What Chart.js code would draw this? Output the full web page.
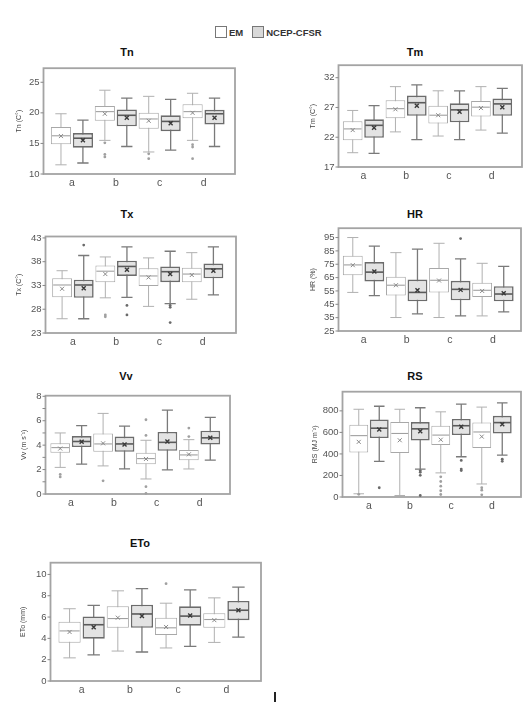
<!DOCTYPE html>
<html>
<head>
<meta charset="utf-8">
<script src="https://cdn.jsdelivr.net/npm/chart.js@4.4.1/dist/chart.umd.min.js"></script>
<style>
  body { margin: 0; background: #fff; font-family: "Liberation Sans", Arial, sans-serif; }
  #wrap { position: relative; width: 531px; height: 714px; overflow: hidden; }
  canvas { position: absolute; }
  .ptitle { position: absolute; font-weight: bold; font-size: 11px; color: #111; transform: translate(-50%, -50%); white-space: nowrap; }
  .legend { position: absolute; top: 26px; left: 215px; font-size: 9.5px; font-weight: bold; color: #333; display: flex; align-items: center; }
  .legend span.sw { display: inline-block; width: 10px; height: 10px; border: 1px solid #777; margin-right: 2px; }
  .legend span.lab { margin-right: 9px; }
  .cursor { position: absolute; left: 274px; top: 692px; width: 1.5px; height: 10px; background: #222; }
</style>
</head>
<body>
<div id="wrap">
  <div class="legend">
    <span class="sw" style="background:#fff"></span><span class="lab">EM</span>
    <span class="sw" style="background:#d9d9d9"></span><span class="lab">NCEP-CFSR</span>
  </div>
  <div class="cursor"></div>
</div>
<script>
const categories = ['a', 'b', 'c', 'd'];
const seriesNames = ['EM', 'NCEP-CFSR'];

// each row: [low whisker, Q1, median, Q3, high whisker, mean]
const tnEM = [[11.5, 14.85, 16.25, 17.7, 19.85, 16.2], [15.5, 18.7, 20.2, 21.1, 23.7, 19.85], [13.6, 17.4, 19.0, 20.0, 22.7, 18.7], [15.5, 19.1, 20.2, 21.4, 23.2, 20.0]];
const tnNCEP = [[11.8, 14.3, 15.85, 16.7, 18.8, 15.5], [14.5, 17.8, 19.6, 20.55, 22.4, 19.2], [13.9, 17.0, 18.6, 19.6, 22.2, 18.3], [14.5, 18.1, 19.85, 20.5, 22.4, 19.2]];
const tnEMOut = [[], [15.1, 13.2, 12.8], [13.3, 12.5], [14.8, 14.4, 12.5]];
const tnNCEPOut = [[], [], [], []];
const tnTicks = [10, 15, 20, 25];
const tnRange = [10, 27.3];

const tmEM = [[19.4, 21.5, 23.4, 24.7, 26.5, 23.2], [22.9, 25.2, 26.8, 28.2, 30.5, 26.7], [22.2, 24.3, 25.7, 27.3, 29.8, 25.7], [23.2, 25.5, 27.05, 28.1, 30.5, 26.9]];
const tmNCEP = [[19.3, 21.9, 24.0, 25.0, 27.3, 23.6], [21.6, 25.6, 27.8, 29.0, 30.8, 27.3], [21.6, 24.5, 26.6, 27.7, 29.8, 26.3], [22.7, 25.6, 27.6, 28.5, 30.2, 27.05]];
const tmEMOut = [[], [], [], []];
const tmNCEPOut = [[], [], [], []];
const tmTicks = [17, 22, 27, 32];
const tmRange = [17, 34.1];

const txEM = [[26.0, 30.5, 33.1, 34.5, 36.1, 32.3], [30.4, 33.7, 36.0, 37.2, 39.0, 35.4], [28.6, 32.9, 35.0, 36.6, 38.8, 34.7], [30.1, 33.7, 35.4, 36.7, 39.9, 35.2]];
const txNCEP = [[26.0, 30.4, 33.1, 34.2, 39.3, 32.4], [30.5, 35.0, 37.0, 38.2, 41.1, 36.3], [29.2, 33.7, 35.9, 37.0, 40.2, 35.4], [31.0, 34.5, 36.5, 37.6, 41.1, 36.1]];
const txEMOut = [[], [26.8, 26.4], [], []];
const txNCEPOut = [[41.5], [28.8, 26.8], [28.8, 28.4, 25.2], []];
const txTicks = [23, 28, 33, 38, 43];
const txRange = [23, 43.3];

const hrEM = [[53.9, 66.8, 74.5, 81.3, 95.0, 74.3], [35.1, 51.5, 59.3, 65.6, 83.7, 59.3], [35.1, 53.9, 63.0, 72.2, 90.7, 62.8], [36.3, 50.4, 55.5, 61.2, 75.7, 55.0]];
const hrNCEP = [[51.5, 62.1, 69.1, 76.6, 88.6, 69.6], [37.9, 47.3, 53.9, 63.5, 86.3, 55.5], [36.3, 48.0, 56.2, 62.6, 79.0, 55.8], [39.3, 47.3, 52.7, 58.6, 73.4, 53.2]];
const hrEMOut = [[], [], [], []];
const hrNCEPOut = [[], [], [94.2], []];
const hrTicks = [25, 35, 45, 55, 65, 75, 85, 95];
const hrRange = [25, 102];

const vvEM = [[2.18, 3.38, 3.8, 4.15, 5.0, 3.72], [2.3, 3.46, 4.1, 4.95, 6.6, 4.15], [1.23, 2.44, 2.9, 3.38, 4.4, 2.87], [2.05, 2.77, 3.2, 3.6, 4.45, 3.25]];
const vvNCEP = [[2.44, 3.85, 4.3, 4.74, 5.6, 4.28], [2.05, 3.46, 4.1, 4.7, 5.56, 4.05], [1.97, 3.54, 4.23, 5.08, 6.87, 4.3], [2.77, 4.05, 4.6, 5.18, 6.28, 4.6]];
const vvEMOut = [[1.6, 1.4], [1.08], [6.08, 4.8, 0.6, 0.05], [5.4, 4.7]];
const vvNCEPOut = [[], [], [], []];
const vvTicks = [0, 1, 2, 3, 4, 5, 6, 7, 8];
const vvRange = [0, 8.05];

const rsEM = [[30, 414, 570, 670, 815, 512], [14, 409, 590, 696, 815, 527], [224, 483, 575, 662, 791, 532], [121, 455, 604, 691, 835, 561]];
const rsNCEP = [[331, 547, 639, 720, 843, 627], [259, 524, 633, 696, 829, 610], [374, 575, 662, 725, 863, 653], [388, 590, 691, 754, 875, 676]];
const rsEMOut = [[25], [], [187, 144, 101, 58, 23], [86, 63, 20]];
const rsNCEPOut = [[86], [245, 230, 201, 14], [340, 259, 245], [351, 331]];
const rsTicks = [0, 200, 400, 600, 800];
const rsRange = [0, 978];

const etoEM = [[2.17, 3.6, 4.7, 5.57, 6.78, 4.6], [2.81, 4.99, 5.86, 7.01, 8.46, 5.94], [3.1, 4.32, 4.99, 5.94, 7.3, 5.07], [3.62, 4.99, 5.77, 6.35, 7.8, 5.71]];
const etoNCEP = [[2.46, 3.97, 5.28, 6.06, 7.1, 5.04], [2.72, 4.99, 6.29, 7.16, 8.67, 6.09], [3.25, 5.19, 6.09, 7.01, 8.55, 6.14], [4.12, 5.71, 6.64, 7.51, 8.81, 6.64]];
const etoEMOut = [[], [], [9.13], []];
const etoNCEPOut = [[], [], [], []];
const etoTicks = [0, 2, 4, 6, 8, 10];
const etoRange = [0, 11.1];

// page layout of each panel (pixels)
const panels = [
  { title: 'Tn', yLabel: 'Tn (C°)', em: tnEM, ncep: tnNCEP, emOut: tnEMOut, ncepOut: tnNCEPOut, ticks: tnTicks, range: tnRange,
    labelX: 19, bandL: 49.5, bandR: 225.5, frameL: 43, frameR: 235, top: 59, bottom: 174, titleX: 127, titleY: 52 },
  { title: 'Tm', yLabel: 'Tm (C°)', em: tmEM, ncep: tmNCEP, emOut: tmEMOut, ncepOut: tmNCEPOut, ticks: tmTicks, range: tmRange,
    labelX: 313, bandL: 341.5, bandR: 513, frameL: 338, frameR: 522, top: 59, bottom: 167, titleX: 415, titleY: 52 },
  { title: 'Tx', yLabel: 'Tx (C°)', em: txEM, ncep: txNCEP, emOut: txEMOut, ncepOut: txNCEPOut, ticks: txTicks, range: txRange,
    labelX: 19, bandL: 50.8, bandR: 224.2, frameL: 45, frameR: 236, top: 228, bottom: 333, titleX: 127, titleY: 214 },
  { title: 'HR', yLabel: 'HR (%)', em: hrEM, ncep: hrNCEP, emOut: hrEMOut, ncepOut: hrNCEPOut, ticks: hrTicks, range: hrRange,
    labelX: 313, bandL: 341.5, bandR: 514.5, frameL: 338, frameR: 521, top: 222, bottom: 331, titleX: 415, titleY: 214 },
  { title: 'Vv', yLabel: 'Vv (m s⁻¹)', em: vvEM, ncep: vvNCEP, emOut: vvEMOut, ncepOut: vvNCEPOut, ticks: vvTicks, range: vvRange,
    labelX: 24, bandL: 49, bandR: 221, frameL: 45, frameR: 230, top: 389, bottom: 494, titleX: 126, titleY: 376 },
  { title: 'RS', yLabel: 'RS (MJ m⁻²)', em: rsEM, ncep: rsNCEP, emOut: rsEMOut, ncepOut: rsNCEPOut, ticks: rsTicks, range: rsRange,
    labelX: 315, bandL: 348, bandR: 512.5, frameL: 342, frameR: 521, top: 383, bottom: 497, titleX: 415, titleY: 376 },
  { title: 'ETo', yLabel: 'ETo (mm)', em: etoEM, ncep: etoNCEP, emOut: etoEMOut, ncepOut: etoNCEPOut, ticks: etoTicks, range: etoRange,
    labelX: 23, bandL: 57, bandR: 250.5, frameL: 50, frameR: 261, top: 553, bottom: 681, titleX: 140, titleY: 543 }
];

const styles = [
  { fill: '#ffffff', border: '#a8a8a8', bw: 1, whisker: '#b0b0b0', median: '#a0a0a0', mean: '#8a8a8a', out: '#a0a0a0' },
  { fill: '#e3e3e3', border: '#6c6c6c', bw: 1.6, whisker: '#7a7a7a', median: '#5a5a5a', mean: '#3a3a3a', out: '#6a6a6a' }
];

const PAD_TOP = 7;
const X_AXIS_H = 18;

const boxPlot = {
  id: 'boxPlot',
  beforeDraw(chart, args, opts) {
    const { ctx, chartArea: a } = chart;
    const p = opts.panel;
    const left = a.left - (p.bandL - p.frameL);
    const right = a.right + (p.frameR - p.bandR);
    ctx.save();
    ctx.strokeStyle = '#a4a4a4';
    ctx.lineWidth = 1.8;
    ctx.strokeRect(left, a.top, right - left, a.bottom - a.top);
    // small tick marks on the left side
    const y = chart.scales.y;
    ctx.lineWidth = 1;
    ctx.strokeStyle = '#888';
    p.ticks.forEach(v => {
      const py = y.getPixelForValue(v);
      ctx.beginPath();
      ctx.moveTo(left - 3, py);
      ctx.lineTo(left, py);
      ctx.stroke();
    });
    ctx.restore();
  },
  beforeDatasetsDraw(chart, args, opts) {
    const { ctx } = chart;
    const y = chart.scales.y;
    const p = opts.panel;
    [p.em, p.ncep].forEach((rows, di) => {
      const st = styles[di];
      const meta = chart.getDatasetMeta(di);
      meta.data.forEach((bar, i) => {
        const r = rows[i];
        const cap = bar.width * 0.28;
        ctx.save();
        ctx.strokeStyle = st.whisker;
        ctx.lineWidth = di ? 1.3 : 1;
        ctx.beginPath();
        ctx.moveTo(bar.x, y.getPixelForValue(r[0]));
        ctx.lineTo(bar.x, y.getPixelForValue(r[4]));
        [r[0], r[4]].forEach(v => {
          const py = y.getPixelForValue(v);
          ctx.moveTo(bar.x - cap, py);
          ctx.lineTo(bar.x + cap, py);
        });
        ctx.stroke();
        ctx.restore();
      });
    });
  },
  afterDatasetsDraw(chart, args, opts) {
    const { ctx } = chart;
    const y = chart.scales.y;
    const p = opts.panel;
    [[p.em, p.emOut], [p.ncep, p.ncepOut]].forEach(([rows, outs], di) => {
      const st = styles[di];
      const meta = chart.getDatasetMeta(di);
      meta.data.forEach((bar, i) => {
        const r = rows[i];
        const half = bar.width / 2;
        ctx.save();
        // median
        ctx.strokeStyle = st.median;
        ctx.lineWidth = di ? 1.6 : 1.1;
        const my = y.getPixelForValue(r[2]);
        ctx.beginPath();
        ctx.moveTo(bar.x - half + 1, my);
        ctx.lineTo(bar.x + half - 1, my);
        ctx.stroke();
        // mean
        const ey = y.getPixelForValue(r[5]);
        const s = 2;
        ctx.strokeStyle = st.mean;
        ctx.lineWidth = di ? 1.4 : 1;
        ctx.beginPath();
        ctx.moveTo(bar.x - s, ey - s); ctx.lineTo(bar.x + s, ey + s);
        ctx.moveTo(bar.x - s, ey + s); ctx.lineTo(bar.x + s, ey - s);
        ctx.stroke();
        // outliers
        ctx.fillStyle = st.out;
        outs[i].forEach(v => {
          ctx.beginPath();
          ctx.arc(bar.x, y.getPixelForValue(v), 1.4, 0, Math.PI * 2);
          ctx.fill();
        });
        ctx.restore();
      });
    });
  }
};

const wrap = document.getElementById('wrap');

panels.forEach(p => {
  const cLeft = p.labelX - 4.5;
  const cTop = p.top - PAD_TOP;
  const cRight = p.frameR + 3;
  const cW = cRight - cLeft;
  const cH = (p.bottom - p.top) + PAD_TOP + X_AXIS_H;

  const t = document.createElement('div');
  t.className = 'ptitle';
  t.style.left = p.titleX + 'px';
  t.style.top = p.titleY + 'px';
  t.textContent = p.title;
  wrap.appendChild(t);

  const cv = document.createElement('canvas');
  cv.style.left = cLeft + 'px';
  cv.style.top = cTop + 'px';
  cv.style.width = cW + 'px';
  cv.style.height = cH + 'px';
  cv.width = cW;
  cv.height = cH;
  wrap.appendChild(cv);

  new Chart(cv.getContext('2d'), {
    type: 'bar',
    data: {
      labels: categories,
      datasets: [
        { label: seriesNames[0], data: p.em.map(r => [r[1], r[3]]), backgroundColor: styles[0].fill,
          borderColor: styles[0].border, borderWidth: styles[0].bw, borderSkipped: false,
          barPercentage: 0.92, categoryPercentage: 1.0 },
        { label: seriesNames[1], data: p.ncep.map(r => [r[1], r[3]]), backgroundColor: styles[1].fill,
          borderColor: styles[1].border, borderWidth: styles[1].bw, borderSkipped: false,
          barPercentage: 0.92, categoryPercentage: 1.0 }
      ]
    },
    options: {
      responsive: false,
      animation: false,
      devicePixelRatio: 1,
      layout: { padding: { top: PAD_TOP, left: 0, right: cRight - p.bandR, bottom: 0 } },
      plugins: {
        legend: { display: false },
        title: { display: false },
        tooltip: { enabled: false },
        boxPlot: { panel: p }
      },
      scales: {
        x: {
          grid: { display: false, drawTicks: false },
          border: { display: false },
          ticks: { color: '#555', font: { family: 'Liberation Sans', size: 10.5 }, padding: 3 },
          afterFit(scale) { scale.height = X_AXIS_H; }
        },
        y: {
          min: p.range[0],
          max: p.range[1],
          grid: { display: false, drawTicks: false },
          border: { display: false },
          afterBuildTicks(scale) { scale.ticks = p.ticks.map(v => ({ value: v })); },
          ticks: { color: '#555', font: { family: 'Liberation Sans', size: 9.5 }, padding: (p.bandL - p.frameL) + 4 },
          title: { display: true, text: p.yLabel, color: '#444', font: { family: 'Liberation Sans', size: 7 }, padding: { top: 0, bottom: 0 } },
          afterFit(scale) { scale.width = p.bandL - cLeft; }
        }
      }
    },
    plugins: [boxPlot]
  });
});
</script>
</body>
</html>
